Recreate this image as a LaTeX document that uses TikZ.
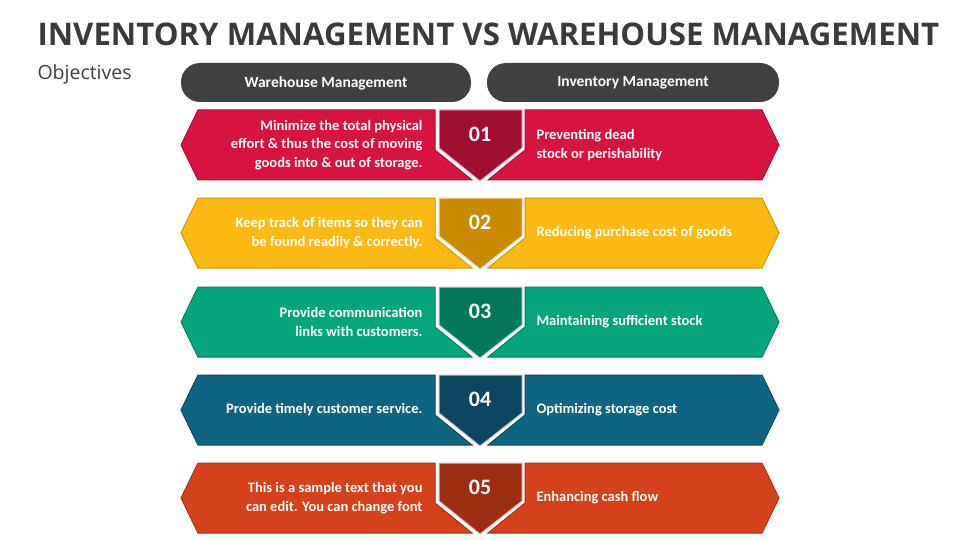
\documentclass[tikz,border=0pt]{standalone}
\usepackage{fontspec}
\setmainfont{Carlito}
\newfontfamily\titlefont{Open Sans}
\definecolor{hdrgray}{HTML}{404040}
\definecolor{ttlgray}{HTML}{3A3A3A}
\definecolor{cA}{HTML}{D7143F}\definecolor{bA}{HTML}{A00F30}
\definecolor{cB}{HTML}{FDB913}\definecolor{bB}{HTML}{C98A00}
\definecolor{cC}{HTML}{05A57B}\definecolor{bC}{HTML}{037858}
\definecolor{cD}{HTML}{0D6583}\definecolor{bD}{HTML}{0A4660}
\definecolor{cE}{HTML}{D4411A}\definecolor{bE}{HTML}{9E2E12}
\tikzset{
  hdr/.style={fill=hdrgray, rounded corners=19pt},
  hdrtext/.style={text=white, font=\bfseries\fontsize{15.5}{18}\selectfont},
  rowtext/.style={text=white, font=\bfseries\fontsize{14.5}{18.5}\selectfont},
  numtext/.style={text=white, font=\bfseries\fontsize{22}{24}\selectfont},
}
\begin{document}
\begin{tikzpicture}[x=1pt,y=-1pt]
\useasboundingbox[fill=white] (0,0) rectangle (960,540);

\node[anchor=west, text=ttlgray, font=\titlefont\bfseries\fontsize{31.2}{34}\selectfont] (title) at (34,34) {INVENTORY MANAGEMENT VS WAREHOUSE MANAGEMENT};
\node[anchor=west, text=hdrgray, font=\titlefont\fontsize{19.5}{22}\selectfont] (obj) at (34,74) {Objectives};

\fill[hdr] (181,63) rectangle (471,102);
\node[hdrtext] (hwm) at (326,83) {Warehouse Management};
\fill[hdr] (487,63) rectangle (779,102);
\node[hdrtext] (him) at (633,83) {Inventory Management};

\foreach \i/\c/\b/\l/\r [count=\k] in {
  0/cA/bA/{Minimize the total physical\\effort \& thus the cost of moving\\goods into \& out of storage.}/{Preventing dead\\stock or perishability},
  88/cB/bB/{Keep track of items so they can\\be found readily \& correctly.}/{Reducing purchase cost of goods},
  177/cC/bC/{Provide communication\\links with customers.}/{Maintaining sufficient stock},
  265/cD/bD/{Provide timely customer service.}/{Optimizing storage cost},
  353/cE/bE/{This is a sample text that you\\can edit. You can change font}/{Enhancing cash flow}} {
  \begin{scope}[yshift=-\i pt]
    % left arrow
    \draw[fill=\c, draw=\b!80!\c, line width=1pt] (181,145) -- (198,110) -- (435,110) -- (435,150) -- (472,180) -- (198,180) -- cycle;
    % right arrow
    \draw[fill=\c, draw=\b!80!\c, line width=1pt] (779,145) -- (762,110) -- (525,110) -- (525,150) -- (488,180) -- (762,180) -- cycle;
    % badge
    \draw[fill=\b, draw=white!70!\b, line width=1pt] (439,110) -- (522,110) -- (522,148) -- (480,181) -- (439,148) -- cycle;
    \node[numtext] (num\k) at (480,134) {0\k};
    \node[rowtext, align=right, anchor=east] (wm\k) at (426,145) {\l};
    \node[rowtext, align=left, anchor=west] (im\k) at (533,145) {\r};
  \end{scope}
}
\end{tikzpicture}
\end{document}
